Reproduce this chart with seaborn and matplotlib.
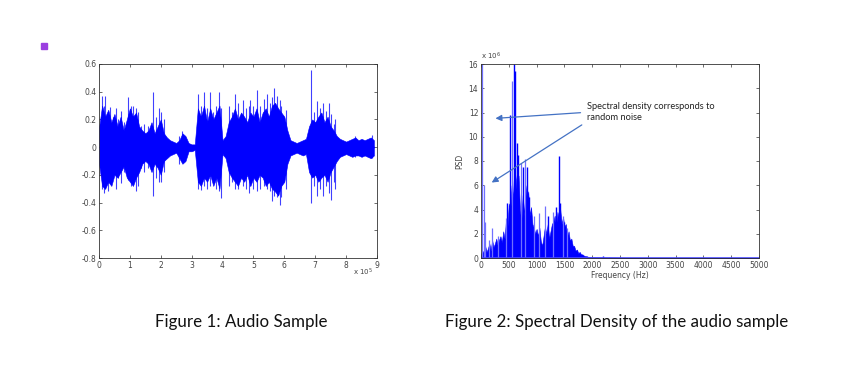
import numpy as np
import pandas as pd
import seaborn as sns
from matplotlib import pyplot as plt
from matplotlib.patches import Rectangle

sns.set_theme(style="ticks")
plt.rcParams['font.family'] = ['DejaVu Sans']

# ---- audio waveform (x in units of 1e5 samples) ----
# body of the waveform read every 0.1 (upper / lower edge)
wave_t = [i / 10 for i in range(90)]
wave_hi = [0.14, 0.30, 0.22, 0.27, 0.18, 0.24, 0.15, 0.22, 0.12, 0.20,
           0.28, 0.22, 0.25, 0.15, 0.12, 0.10, 0.12, 0.18, 0.10, 0.15,
           0.20, 0.10, 0.07, 0.05, 0.04, 0.03, 0.05, 0.10, 0.08, 0.03,
           0.02, 0.02, 0.28, 0.22, 0.30, 0.18, 0.28, 0.20, 0.25, 0.30,
           0.05, 0.08, 0.18, 0.22, 0.28, 0.20, 0.25, 0.22, 0.18, 0.25,
           0.22, 0.28, 0.18, 0.25, 0.28, 0.22, 0.30, 0.32, 0.28, 0.25,
           0.22, 0.12, 0.05, 0.04, 0.03, 0.04, 0.05, 0.06, 0.15, 0.20,
           0.18, 0.22, 0.25, 0.18, 0.22, 0.15, 0.12, 0.08, 0.06, 0.05,
           0.04, 0.05, 0.06, 0.07, 0.05, 0.06, 0.05, 0.06, 0.07, 0.05]
wave_lo = [-0.12, -0.28, -0.30, -0.25, -0.28, -0.20, -0.22, -0.18, -0.14, -0.22,
           -0.25, -0.28, -0.22, -0.18, -0.12, -0.10, -0.12, -0.18, -0.12, -0.15,
           -0.20, -0.10, -0.08, -0.06, -0.05, -0.04, -0.08, -0.12, -0.10, -0.03,
           -0.03, -0.02, -0.25, -0.28, -0.22, -0.25, -0.20, -0.28, -0.22, -0.30,
           -0.05, -0.08, -0.18, -0.22, -0.25, -0.28, -0.22, -0.25, -0.20, -0.28,
           -0.22, -0.25, -0.20, -0.22, -0.28, -0.25, -0.30, -0.32, -0.35, -0.28,
           -0.25, -0.12, -0.06, -0.05, -0.04, -0.05, -0.06, -0.05, -0.18, -0.22,
           -0.20, -0.25, -0.22, -0.20, -0.25, -0.18, -0.14, -0.10, -0.07, -0.06,
           -0.05, -0.06, -0.07, -0.06, -0.06, -0.07, -0.06, -0.07, -0.08, -0.06]

# individual peaks sticking out of the body
spike_t = [0.05, 0.1, 0.15, 0.2, 0.3, 0.35, 0.45, 0.55, 0.62, 0.7, 0.8, 0.95, 1.05, 1.1, 1.2, 1.25, 1.35,
           1.45, 1.6, 1.75, 1.85, 1.95, 2.0, 2.1, 2.6, 2.7, 3.2, 3.3, 3.4, 3.5, 3.6, 3.7, 3.8, 3.9, 3.95,
           4.2, 4.3, 4.4, 4.5, 4.65, 4.75, 4.85, 4.9, 5.0, 5.1, 5.2, 5.35, 5.45, 5.55, 5.6, 5.65, 5.75,
           5.85, 5.9, 6.05, 6.85, 6.95, 7.05, 7.15, 7.25, 7.35, 7.45, 7.5, 7.6, 7.65, 8.3, 8.85]
spike_hi = [0.20, 0.37, 0.30, 0.37, 0.25, 0.29, 0.22, 0.28, 0.20, 0.26, 0.18, 0.36, 0.30, 0.30, 0.28, 0.25, 0.15,
            0.17, 0.15, 0.40, 0.22, 0.28, 0.25, 0.20, 0.08, 0.12, 0.38, 0.30, 0.40, 0.28, 0.40, 0.25, 0.30, 0.40, 0.28,
            0.30, 0.25, 0.38, 0.32, 0.34, 0.28, 0.30, 0.34, 0.30, 0.41, 0.30, 0.35, 0.38, 0.32, 0.36, 0.43, 0.37,
            0.34, 0.30, 0.27, 0.56, 0.25, 0.33, 0.28, 0.32, 0.26, 0.32, 0.24, 0.17, 0.20, 0.08, 0.09]
spike_lo = [-0.18, -0.30, -0.33, -0.30, -0.32, -0.25, -0.20, -0.30, -0.22, -0.26, -0.18, -0.24, -0.28, -0.25, -0.32, -0.28, -0.15,
            -0.18, -0.15, -0.35, -0.22, -0.25, -0.25, -0.18, -0.12, -0.10, -0.30, -0.31, -0.28, -0.30, -0.28, -0.25, -0.30, -0.32, -0.37,
            -0.28, -0.25, -0.30, -0.30, -0.28, -0.30, -0.33, -0.28, -0.30, -0.32, -0.30, -0.28, -0.30, -0.32, -0.39, -0.35, -0.36,
            -0.42, -0.36, -0.30, -0.40, -0.28, -0.35, -0.30, -0.35, -0.28, -0.33, -0.38, -0.25, -0.30, -0.07, -0.08]

# ---- power spectral density (x in Hz, y in units of 1e6) ----
psd_f = list(range(0, 2000, 25)) + [2000, 2200, 2400, 2600, 3000, 5000]
psd_v = [0.3, 0.6, 0.4, 1.0, 0.5, 0.8, 1.2, 0.6, 1.5, 0.9, 1.2, 1.6, 1.0, 1.5, 1.8, 1.3, 2.2, 1.6, 3.2, 2.5,
         4.5, 3.8, 6.0, 5.0, 7.5, 6.5, 5.0, 6.8, 4.0, 3.0, 5.2, 3.5, 6.0, 4.8, 5.5, 3.5, 4.2, 2.8, 2.5, 2.0,
         2.4, 1.8, 2.5, 1.4, 1.0, 1.8, 2.6, 2.0, 2.8, 1.6, 2.2, 2.8, 3.0, 3.5, 2.6, 3.8, 3.3, 4.0, 2.8, 3.4,
         2.6, 2.8, 1.8, 2.2, 1.4, 1.6, 1.0, 1.0, 0.6, 0.7, 0.4, 0.5, 0.3, 0.3, 0.2, 0.15, 0.15, 0.1, 0.08, 0.06,
         0.06, 0.05, 0.04, 0.02, 0.01, 0.01]

peak_f = [20, 55, 75, 150, 200, 300, 450, 475, 530, 560, 600, 620, 640, 660, 720, 760, 790, 830,
          870, 950, 1050, 1150, 1200, 1300, 1350, 1400, 1420, 1470, 1500, 1550, 1600, 2200, 2300]
peak_v = [16.0, 6.0, 3.0, 1.5, 2.5, 1.8, 3.3, 4.5, 11.8, 14.6, 16.0, 15.4, 9.5, 8.5, 7.8, 7.5, 8.2, 7.5,
          5.0, 3.5, 3.7, 4.3, 3.5, 3.8, 4.2, 8.4, 4.5, 3.5, 3.0, 2.5, 1.5, 0.15, 0.1]
peak_dark = [0, 0, 0, 0, 0, 0, 0, 1, 1, 0, 1, 1, 1, 1, 0, 1, 0, 1,
             1, 0, 0, 0, 1, 0, 1, 1, 1, 0, 1, 0, 1, 1, 0]

blue = '#0000ff'
tick_gray = '#444444'

fig = plt.figure(figsize=(8.63, 3.70), dpi=100)
ax1 = fig.add_axes([99 / 863, 1 - 258 / 370, 278 / 863, 194 / 370])
ax2 = fig.add_axes([481 / 863, 1 - 258 / 370, 278 / 863, 194 / 370])

# waveform
wave = pd.DataFrame({'t': wave_t, 'hi': wave_hi, 'lo': wave_lo})
ax1.fill_between(wave.t, wave.lo, wave.hi, color=blue, lw=0.4, edgecolor=blue)
ax1.vlines(spike_t, spike_lo, spike_hi, color=blue, lw=0.8, alpha=0.75)
sns.lineplot(x=[0, 8.9], y=[0, 0], ax=ax1, color=blue, lw=1)
ax1.set_xlim(0, 9)
ax1.set_ylim(-0.8, 0.6)
ax1.set_xticks(range(10))
ax1.set_yticks([-0.8, -0.6, -0.4, -0.2, 0, 0.2, 0.4, 0.6])
ax1.set_yticklabels(['-0.8', '-0.6', '-0.4', '-0.2', '0', '0.2', '0.4', '0.6'])
ax1.text(0.985, -0.045, r'x 10$^5$', transform=ax1.transAxes, ha='right', va='top',
         fontsize=5, color=tick_gray)

# PSD
psd = pd.DataFrame({'f': psd_f, 'v': psd_v})
ax2.fill_between(psd.f, 0, psd.v, color=blue, lw=0.4, edgecolor=blue)
dark = [bool(d) for d in peak_dark]
ax2.vlines([f for f, d in zip(peak_f, dark) if d], 0, [v for v, d in zip(peak_v, dark) if d],
           color=blue, lw=1.0)
ax2.vlines([f for f, d in zip(peak_f, dark) if not d], 0, [v for v, d in zip(peak_v, dark) if not d],
           color='#7070ff', lw=0.9)
sns.lineplot(data=psd, x='f', y=np.zeros(len(psd)), ax=ax2, color='#4a4aff', lw=1.2)
ax2.set_xlim(0, 5000)
ax2.set_ylim(0, 16)
ax2.set_xticks(range(0, 5001, 500))
ax2.set_yticks(range(0, 17, 2))
ax2.set_xlabel('Frequency (Hz)', fontsize=5.5, color=tick_gray, labelpad=1)
ax2.set_ylabel('PSD', fontsize=5.5, color=tick_gray, labelpad=3)
ax2.text(0.0, 1.01, r'x 10$^6$', transform=ax2.transAxes, ha='left', va='bottom',
         fontsize=5, color=tick_gray)

for ax in (ax1, ax2):
    ax.tick_params(direction='in', length=2.5, width=0.5, labelsize=5.5,
                   labelcolor=tick_gray, color='#333333', pad=2,
                   top=True, right=True)
    for s in ax.spines.values():
        s.set_visible(True)
        s.set_linewidth(0.6)
        s.set_color('#333333')

# annotation with two arrows
note = 'Spectral density corresponds to\nrandom noise'
ax2.text(1900, 12.9, note, fontsize=6.7, va='top', ha='left', color='#222222',
         family=['Lato', 'DejaVu Sans'], linespacing=1.4)
arrow = dict(arrowstyle='-|>', color='#4472c4', lw=0.9, mutation_scale=9)
ax2.annotate('', xy=(210, 11.5), xytext=(1840, 12.0), arrowprops=arrow)
ax2.annotate('', xy=(150, 6.1), xytext=(1855, 11.1), arrowprops=arrow)

# bullet mark and captions
fig.patches.append(Rectangle((41 / 863, 1 - 49 / 370), 6 / 863, 6 / 370,
                             transform=fig.transFigure, color='#9b3fe0'))
cap = dict(fontsize=12.2, ha='center', va='center', color='#111111',
           family=['Lato', 'DejaVu Sans'])
fig.text(241 / 863, 1 - 322 / 370, 'Figure 1: Audio Sample', **cap)
fig.text(617 / 863, 1 - 322 / 370, 'Figure 2: Spectral Density of the audio sample', **cap)

fig.savefig('out.png', dpi=100, facecolor='white')
